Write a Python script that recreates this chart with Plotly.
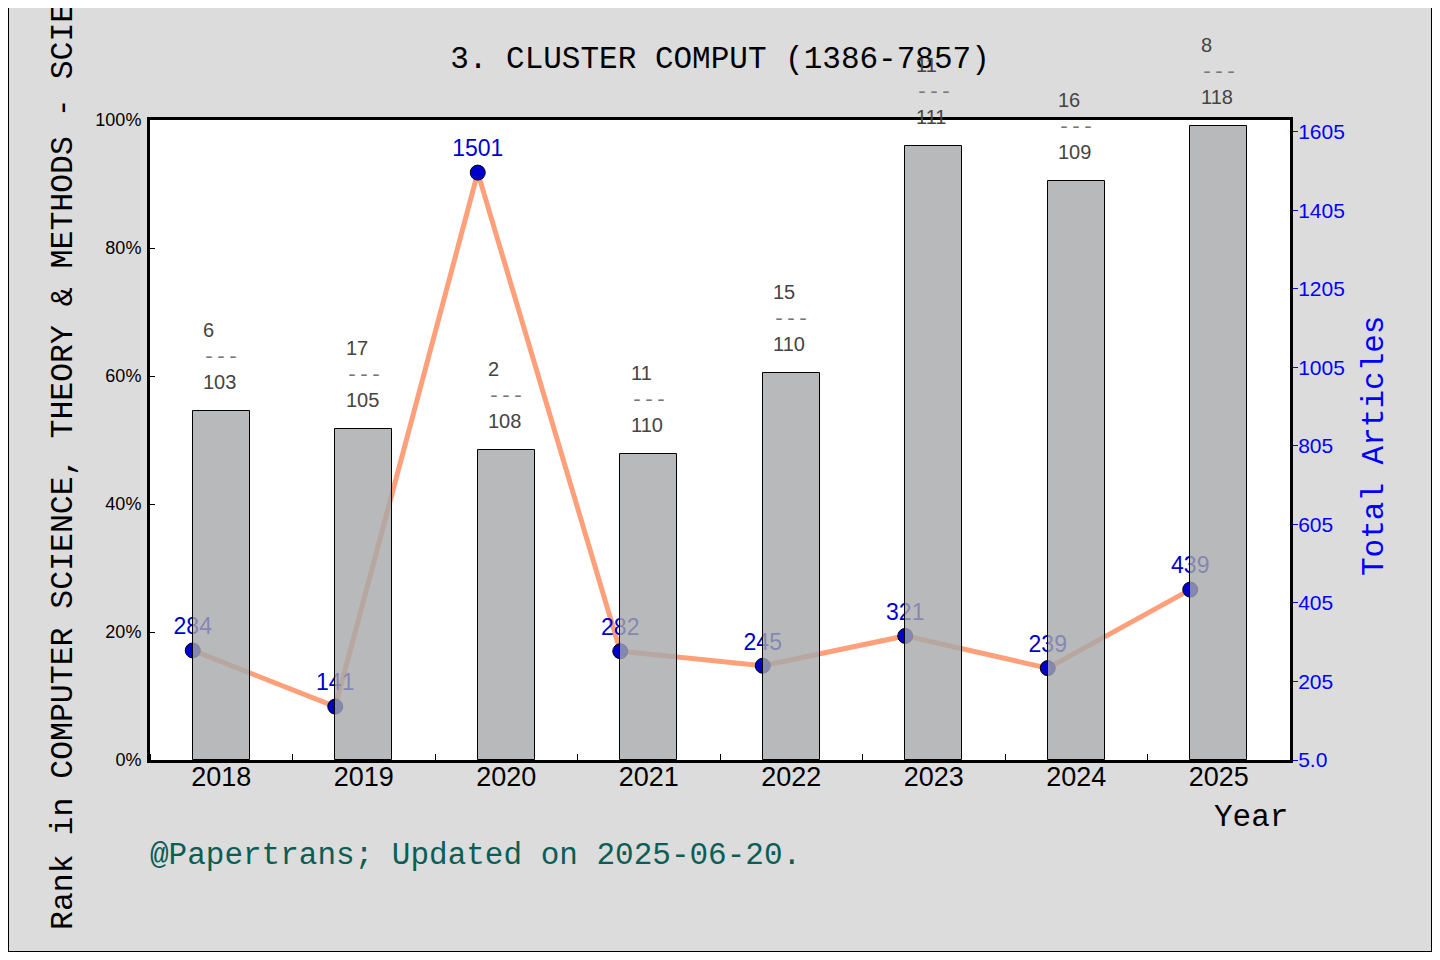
import plotly.graph_objects as go

years = ["2018", "2019", "2020", "2021", "2022", "2023", "2024", "2025"]
rank_pct = [54.5, 51.7, 48.5, 47.8, 60.4, 96.0, 90.4, 99.1]
rank_pos = [6, 17, 2, 11, 15, 11, 16, 8]
journal_counts = [103, 105, 108, 110, 110, 111, 109, 118]
total_articles = [284, 141, 1501, 282, 245, 321, 239, 439]
pct_ticks = [0, 20, 40, 60, 80, 100]
article_ticks = [5, 205, 405, 605, 805, 1005, 1205, 1405, 1605]
article_ticktext = ["5.0", "205", "405", "605", "805", "1005", "1205", "1405", "1605"]

MONO = "Liberation Mono, DejaVu Sans Mono, monospace"
SANS = "Liberation Sans, Arial, sans-serif"

bar_w = 0.4
x_idx = list(range(len(years)))
line_x = [i - bar_w / 2 for i in x_idx]

# the page adds an 8px body margin, so the figure is a bit smaller
OFF = 8
W, H = 1440 - 2 * OFF, 960 - 2 * OFF
L, T = 150 - OFF, 120 - OFF
pw, ph = 1140, 640
R, B = W - L - pw, H - T - ph


def px_x(x):
    # screen x (reference pixels) -> paper fraction
    return (x - OFF - L) / pw


def px_y(y):
    return (T + ph - (y - OFF)) / ph


fig = go.Figure()

# line on the base (right) axis, so the bars overlay it
fig.add_trace(go.Scatter(
    x=line_x, y=total_articles,
    mode="lines+markers+text",
    line=dict(color="#ffa07a", width=5),
    marker=dict(size=15, color="#0000cd", line=dict(color="black", width=1)),
    text=[str(v) for v in total_articles],
    textposition="top center",
    textfont=dict(family=SANS, size=23, color="#0000cd"),
    cliponaxis=False,
    hoverinfo="skip",
    xaxis="x", yaxis="y",
))

fig.add_trace(go.Bar(
    x=x_idx, y=rank_pct, width=bar_w,
    marker=dict(color="rgba(166,168,170,0.8)", line=dict(color="black", width=1)),
    hoverinfo="skip",
    xaxis="x", yaxis="y2",
))

dash = "<span style='font-family:Liberation Mono, monospace;color:#777777'>---</span>"
for i, (p, n, v) in enumerate(zip(rank_pos, journal_counts, rank_pct)):
    fig.add_annotation(
        x=i, y=v, xref="x", yref="y2",
        text=f"{p}<br>{dash}<br>{n}",
        align="left", xanchor="center", yanchor="bottom",
        yshift=16, showarrow=False,
        font=dict(family=SANS, size=20, color="#444444"),
    )

fig.update_layout(
    width=W, height=H,
    margin=dict(l=L, r=R, t=T, b=B),
    paper_bgcolor="#dcdcdc",
    plot_bgcolor="white",
    showlegend=False,
    bargap=0,
    title=dict(
        text="3. CLUSTER COMPUT (1386-7857)",
        x=0.5, xanchor="center", y=1 - (57 - OFF) / H, yanchor="middle",
        font=dict(family=MONO, size=31, color="black"),
    ),
    xaxis=dict(
        range=[-0.5, len(years) - 0.5],
        tickmode="array", tickvals=x_idx, ticktext=years, ticks="",
        ticklabelstandoff=-9,
        tickfont=dict(family=SANS, size=27, color="black"),
        minor=dict(tickmode="linear", tick0=0.5, dtick=1, ticks="inside",
                   ticklen=6, tickwidth=1, tickcolor="black"),
        showline=True, mirror=True, linewidth=3, linecolor="black",
        showgrid=False, zeroline=False,
    ),
    yaxis=dict(
        side="right",
        range=[5, 1635],
        tickmode="array", tickvals=article_ticks, ticktext=article_ticktext,
        ticks="outside", ticklen=5, tickcolor="blue",
        ticklabelstandoff=-4,
        tickfont=dict(family=SANS, size=21, color="blue"),
        showline=True, linewidth=3, linecolor="black",
        showgrid=False, zeroline=False,
    ),
    yaxis2=dict(
        overlaying="y", side="left",
        range=[0, 100],
        tickmode="array", tickvals=pct_ticks,
        ticktext=[f"{v}%" for v in pct_ticks],
        ticks="inside", ticklen=5, tickcolor="black",
        ticklabelstandoff=2,
        tickfont=dict(family=SANS, size=18, color="black"),
        showline=True, linewidth=3, linecolor="black",
        showgrid=False, zeroline=False,
    ),
)

# axis titles and footer text
fig.add_annotation(
    xref="paper", yref="paper",
    x=px_x(63), y=px_y(932),
    xanchor="center", yanchor="bottom", textangle=-90, showarrow=False,
    text="Rank in COMPUTER SCIENCE, THEORY & METHODS - SCIE",
    font=dict(family=MONO, size=31.5, color="black"),
)
fig.add_annotation(
    xref="paper", yref="paper",
    x=px_x(1374), y=px_y(446),
    xanchor="center", yanchor="middle", textangle=-90, showarrow=False,
    text="Total Articles",
    font=dict(family=MONO, size=31, color="blue"),
)
fig.add_annotation(
    xref="paper", yref="paper",
    x=1, y=px_y(817),
    xanchor="right", yanchor="middle", showarrow=False,
    text="Year",
    font=dict(family=MONO, size=31, color="black"),
)
fig.add_annotation(
    xref="paper", yref="paper",
    x=px_x(148), y=px_y(855),
    xanchor="left", yanchor="middle", showarrow=False,
    text="@Papertrans; Updated on 2025-06-20.",
    font=dict(family=MONO, size=31, color="#0b5e55"),
)

# thin frame round the whole figure
fig.add_shape(
    type="rect", xref="paper", yref="paper",
    x0=-L / pw, x1=(W - L) / pw, y0=-B / ph, y1=(H - T) / ph,
    line=dict(color="black", width=2), layer="below",
)

fig.write_html("out.html")
